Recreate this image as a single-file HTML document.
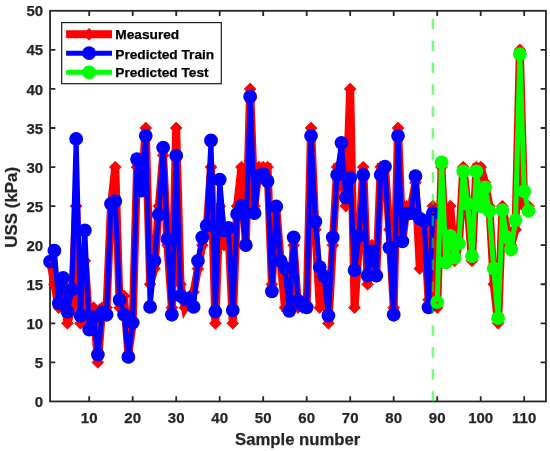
<!DOCTYPE html><html><head><meta charset="utf-8"><title>USS plot</title>
<style>html,body{margin:0;padding:0;background:#fff}svg{display:block}text{font-family:"Liberation Sans",sans-serif;font-weight:bold;fill:#262626;stroke:#262626;stroke-width:0.25px}</style></head><body>
<svg width="550" height="451" viewBox="0 0 550 451">
<rect x="0" y="0" width="550" height="451" fill="#fff"/>
<rect x="50.05" y="10.8" width="495.90000000000003" height="390.65" fill="none" stroke="#262626" stroke-width="1.8"/>
<path d="M50.05,362.38h5.3M545.95,362.38h-5.3M50.05,323.32h5.3M545.95,323.32h-5.3M50.05,284.25h5.3M545.95,284.25h-5.3M50.05,245.19h5.3M545.95,245.19h-5.3M50.05,206.12h5.3M545.95,206.12h-5.3M50.05,167.06h5.3M545.95,167.06h-5.3M50.05,128.00h5.3M545.95,128.00h-5.3M50.05,88.93h5.3M545.95,88.93h-5.3M50.05,49.87h5.3M545.95,49.87h-5.3M89.20,401.45v-5.3M89.20,10.8v5.3M132.70,401.45v-5.3M132.70,10.8v5.3M176.20,401.45v-5.3M176.20,10.8v5.3M219.70,401.45v-5.3M219.70,10.8v5.3M263.20,401.45v-5.3M263.20,10.8v5.3M306.70,401.45v-5.3M306.70,10.8v5.3M350.20,401.45v-5.3M350.20,10.8v5.3M393.70,401.45v-5.3M393.70,10.8v5.3M437.20,401.45v-5.3M437.20,10.8v5.3M480.70,401.45v-5.3M480.70,10.8v5.3M524.20,401.45v-5.3M524.20,10.8v5.3" stroke="#262626" stroke-width="1.8" fill="none"/>
<polyline points="50.05,260.82 54.40,284.25 58.75,307.69 63.10,284.25 67.45,323.32 71.80,307.69 76.15,206.12 80.50,323.32 84.85,260.82 89.20,323.32 93.55,307.69 97.90,362.38 102.25,307.69 106.60,307.69 110.95,206.12 115.30,167.06 119.65,307.69 124.00,295.97 128.35,354.57 132.70,323.32 137.05,167.06 141.40,188.94 145.75,128.00 150.10,284.25 154.45,268.63 158.80,206.12 163.15,155.34 167.50,245.19 171.85,307.69 176.20,128.00 180.55,284.25 184.90,307.69 189.25,299.88 193.60,292.07 197.95,268.63 202.30,245.19 206.65,229.56 211.00,167.06 215.35,323.32 219.70,206.12 224.05,245.19 228.40,229.56 232.75,323.32 237.10,206.12 241.45,167.06 245.80,245.19 250.15,88.93 254.50,206.12 258.85,167.06 263.20,167.06 267.55,167.06 271.90,284.25 276.25,206.12 280.60,260.82 284.95,307.69 289.30,307.69 293.65,245.19 298.00,307.69 302.35,307.69 306.70,307.69 311.05,128.00 315.40,229.56 319.75,307.69 324.10,284.25 328.45,323.32 332.80,245.19 337.15,167.06 341.50,167.06 345.85,206.12 350.20,88.93 354.55,307.69 358.90,245.19 363.25,167.06 367.60,284.25 371.95,245.19 376.30,276.44 380.65,167.06 385.00,167.06 389.35,229.56 393.70,307.69 398.05,128.00 402.40,241.28 406.75,206.12 411.10,206.12 415.45,182.69 419.80,268.63 424.15,221.75 428.50,299.88 432.85,206.12 437.20,307.69 441.55,167.06 445.90,260.82 450.25,206.12 454.60,260.82 458.95,245.19 463.30,167.06 467.65,206.12 472.00,260.82 476.35,167.06 480.70,167.06 485.05,182.69 489.40,206.12 493.75,284.25 498.10,323.32 502.45,206.12 506.80,229.56 511.15,245.19 515.50,229.56 519.85,49.87 524.20,206.12 528.55,206.12" fill="none" stroke="#f00" stroke-width="8" stroke-linejoin="miter" stroke-miterlimit="3"/>
<path d="M50.05,254.92L55.95,260.82L50.05,266.72L44.15,260.82ZM54.40,278.36L60.30,284.25L54.40,290.15L48.50,284.25ZM58.75,301.79L64.65,307.69L58.75,313.59L52.85,307.69ZM63.10,278.36L69.00,284.25L63.10,290.15L57.20,284.25ZM67.45,317.42L73.35,323.32L67.45,329.22L61.55,323.32ZM71.80,301.79L77.70,307.69L71.80,313.59L65.90,307.69ZM76.15,200.22L82.05,206.12L76.15,212.03L70.25,206.12ZM80.50,317.42L86.40,323.32L80.50,329.22L74.60,323.32ZM84.85,254.92L90.75,260.82L84.85,266.72L78.95,260.82ZM89.20,317.42L95.10,323.32L89.20,329.22L83.30,323.32ZM93.55,301.79L99.45,307.69L93.55,313.59L87.65,307.69ZM97.90,356.49L103.80,362.38L97.90,368.28L92.00,362.38ZM102.25,301.79L108.15,307.69L102.25,313.59L96.35,307.69ZM106.60,301.79L112.50,307.69L106.60,313.59L100.70,307.69ZM110.95,200.22L116.85,206.12L110.95,212.03L105.05,206.12ZM115.30,161.16L121.20,167.06L115.30,172.96L109.40,167.06ZM119.65,301.79L125.55,307.69L119.65,313.59L113.75,307.69ZM124.00,290.07L129.90,295.97L124.00,301.87L118.10,295.97ZM128.35,348.67L134.25,354.57L128.35,360.47L122.45,354.57ZM132.70,317.42L138.60,323.32L132.70,329.22L126.80,323.32ZM137.05,161.16L142.95,167.06L137.05,172.96L131.15,167.06ZM141.40,183.04L147.30,188.94L141.40,194.84L135.50,188.94ZM145.75,122.09L151.65,128.00L145.75,133.90L139.85,128.00ZM150.10,278.36L156.00,284.25L150.10,290.15L144.20,284.25ZM154.45,262.73L160.35,268.63L154.45,274.53L148.55,268.63ZM158.80,200.22L164.70,206.12L158.80,212.03L152.90,206.12ZM163.15,149.44L169.05,155.34L163.15,161.24L157.25,155.34ZM167.50,239.29L173.40,245.19L167.50,251.09L161.60,245.19ZM171.85,301.79L177.75,307.69L171.85,313.59L165.95,307.69ZM176.20,122.09L182.10,128.00L176.20,133.90L170.30,128.00ZM180.55,278.36L186.45,284.25L180.55,290.15L174.65,284.25ZM184.90,301.79L190.80,307.69L184.90,313.59L179.00,307.69ZM189.25,293.98L195.15,299.88L189.25,305.78L183.35,299.88ZM193.60,286.17L199.50,292.07L193.60,297.97L187.70,292.07ZM197.95,262.73L203.85,268.63L197.95,274.53L192.05,268.63ZM202.30,239.29L208.20,245.19L202.30,251.09L196.40,245.19ZM206.65,223.66L212.55,229.56L206.65,235.46L200.75,229.56ZM211.00,161.16L216.90,167.06L211.00,172.96L205.10,167.06ZM215.35,317.42L221.25,323.32L215.35,329.22L209.45,323.32ZM219.70,200.22L225.60,206.12L219.70,212.03L213.80,206.12ZM224.05,239.29L229.95,245.19L224.05,251.09L218.15,245.19ZM228.40,223.66L234.30,229.56L228.40,235.46L222.50,229.56ZM232.75,317.42L238.65,323.32L232.75,329.22L226.85,323.32ZM237.10,200.22L243.00,206.12L237.10,212.03L231.20,206.12ZM241.45,161.16L247.35,167.06L241.45,172.96L235.55,167.06ZM245.80,239.29L251.70,245.19L245.80,251.09L239.90,245.19ZM250.15,83.03L256.05,88.93L250.15,94.83L244.25,88.93ZM254.50,200.22L260.40,206.12L254.50,212.03L248.60,206.12ZM258.85,161.16L264.75,167.06L258.85,172.96L252.95,167.06ZM263.20,161.16L269.10,167.06L263.20,172.96L257.30,167.06ZM267.55,161.16L273.45,167.06L267.55,172.96L261.65,167.06ZM271.90,278.36L277.80,284.25L271.90,290.15L266.00,284.25ZM276.25,200.22L282.15,206.12L276.25,212.03L270.35,206.12ZM280.60,254.92L286.50,260.82L280.60,266.72L274.70,260.82ZM284.95,301.79L290.85,307.69L284.95,313.59L279.05,307.69ZM289.30,301.79L295.20,307.69L289.30,313.59L283.40,307.69ZM293.65,239.29L299.55,245.19L293.65,251.09L287.75,245.19ZM298.00,301.79L303.90,307.69L298.00,313.59L292.10,307.69ZM302.35,301.79L308.25,307.69L302.35,313.59L296.45,307.69ZM306.70,301.79L312.60,307.69L306.70,313.59L300.80,307.69ZM311.05,122.09L316.95,128.00L311.05,133.90L305.15,128.00ZM315.40,223.66L321.30,229.56L315.40,235.46L309.50,229.56ZM319.75,301.79L325.65,307.69L319.75,313.59L313.85,307.69ZM324.10,278.36L330.00,284.25L324.10,290.15L318.20,284.25ZM328.45,317.42L334.35,323.32L328.45,329.22L322.55,323.32ZM332.80,239.29L338.70,245.19L332.80,251.09L326.90,245.19ZM337.15,161.16L343.05,167.06L337.15,172.96L331.25,167.06ZM341.50,161.16L347.40,167.06L341.50,172.96L335.60,167.06ZM345.85,200.22L351.75,206.12L345.85,212.03L339.95,206.12ZM350.20,83.03L356.10,88.93L350.20,94.83L344.30,88.93ZM354.55,301.79L360.45,307.69L354.55,313.59L348.65,307.69ZM358.90,239.29L364.80,245.19L358.90,251.09L353.00,245.19ZM363.25,161.16L369.15,167.06L363.25,172.96L357.35,167.06ZM367.60,278.36L373.50,284.25L367.60,290.15L361.70,284.25ZM371.95,239.29L377.85,245.19L371.95,251.09L366.05,245.19ZM376.30,270.54L382.20,276.44L376.30,282.34L370.40,276.44ZM380.65,161.16L386.55,167.06L380.65,172.96L374.75,167.06ZM385.00,161.16L390.90,167.06L385.00,172.96L379.10,167.06ZM389.35,223.66L395.25,229.56L389.35,235.46L383.45,229.56ZM393.70,301.79L399.60,307.69L393.70,313.59L387.80,307.69ZM398.05,122.09L403.95,128.00L398.05,133.90L392.15,128.00ZM402.40,235.38L408.30,241.28L402.40,247.18L396.50,241.28ZM406.75,200.22L412.65,206.12L406.75,212.03L400.85,206.12ZM411.10,200.22L417.00,206.12L411.10,212.03L405.20,206.12ZM415.45,176.79L421.35,182.69L415.45,188.59L409.55,182.69ZM419.80,262.73L425.70,268.63L419.80,274.53L413.90,268.63ZM424.15,215.85L430.05,221.75L424.15,227.65L418.25,221.75ZM428.50,293.98L434.40,299.88L428.50,305.78L422.60,299.88ZM432.85,200.22L438.75,206.12L432.85,212.03L426.95,206.12ZM437.20,301.79L443.10,307.69L437.20,313.59L431.30,307.69ZM441.55,161.16L447.45,167.06L441.55,172.96L435.65,167.06ZM445.90,254.92L451.80,260.82L445.90,266.72L440.00,260.82ZM450.25,200.22L456.15,206.12L450.25,212.03L444.35,206.12ZM454.60,254.92L460.50,260.82L454.60,266.72L448.70,260.82ZM458.95,239.29L464.85,245.19L458.95,251.09L453.05,245.19ZM463.30,161.16L469.20,167.06L463.30,172.96L457.40,167.06ZM467.65,200.22L473.55,206.12L467.65,212.03L461.75,206.12ZM472.00,254.92L477.90,260.82L472.00,266.72L466.10,260.82ZM476.35,161.16L482.25,167.06L476.35,172.96L470.45,167.06ZM480.70,161.16L486.60,167.06L480.70,172.96L474.80,167.06ZM485.05,176.79L490.95,182.69L485.05,188.59L479.15,182.69ZM489.40,200.22L495.30,206.12L489.40,212.03L483.50,206.12ZM493.75,278.36L499.65,284.25L493.75,290.15L487.85,284.25ZM498.10,317.42L504.00,323.32L498.10,329.22L492.20,323.32ZM502.45,200.22L508.35,206.12L502.45,212.03L496.55,206.12ZM506.80,223.66L512.70,229.56L506.80,235.46L500.90,229.56ZM511.15,239.29L517.05,245.19L511.15,251.09L505.25,245.19ZM515.50,223.66L521.40,229.56L515.50,235.46L509.60,229.56ZM519.85,43.97L525.75,49.87L519.85,55.77L513.95,49.87ZM524.20,200.22L530.10,206.12L524.20,212.03L518.30,206.12ZM528.55,200.22L534.45,206.12L528.55,212.03L522.65,206.12Z" fill="#f00" stroke="#f00" stroke-width="0.8" stroke-linejoin="round"/>
<polyline points="50.05,261.60 54.40,250.66 58.75,303.01 63.10,278.00 67.45,311.60 71.80,289.72 76.15,138.93 80.50,315.51 84.85,230.35 89.20,329.57 93.55,317.07 97.90,354.57 102.25,312.38 106.60,314.73 110.95,203.78 115.30,201.05 119.65,299.88 124.00,314.73 128.35,356.92 132.70,322.54 137.05,159.25 141.40,190.50 145.75,135.81 150.10,306.91 154.45,260.82 158.80,214.72 163.15,147.53 167.50,238.94 171.85,314.73 176.20,155.73 180.55,295.97 184.90,299.10 189.25,298.32 193.60,306.91 197.95,260.82 202.30,237.38 206.65,225.66 211.00,140.50 215.35,311.60 219.70,179.56 224.05,230.35 228.40,228.00 232.75,310.04 237.10,213.94 241.45,206.12 245.80,245.19 250.15,96.74 254.50,213.16 258.85,175.65 263.20,174.09 267.55,181.12 271.90,291.29 276.25,206.52 280.60,260.82 284.95,267.85 289.30,310.82 293.65,237.38 298.00,300.66 302.35,305.35 306.70,307.30 311.05,135.81 315.40,221.75 319.75,267.07 324.10,276.44 328.45,315.51 332.80,237.38 337.15,174.87 341.50,142.84 345.85,197.53 350.20,178.00 354.55,270.19 358.90,235.81 363.25,174.87 367.60,275.66 371.95,251.44 376.30,275.66 380.65,174.87 385.00,166.67 389.35,247.53 393.70,314.73 398.05,135.81 402.40,241.28 406.75,213.94 411.10,213.16 415.45,176.04 419.80,218.63 424.15,220.97 428.50,307.30 432.85,213.16" fill="none" stroke="#00f" stroke-width="5" stroke-linejoin="miter" stroke-miterlimit="3"/>
<g fill="#00f"><circle cx="54.40" cy="250.66" r="6.9"/><circle cx="58.75" cy="303.01" r="6.9"/><circle cx="63.10" cy="278.00" r="6.9"/><circle cx="67.45" cy="311.60" r="6.9"/><circle cx="71.80" cy="289.72" r="6.9"/><circle cx="76.15" cy="138.93" r="6.9"/><circle cx="80.50" cy="315.51" r="6.9"/><circle cx="84.85" cy="230.35" r="6.9"/><circle cx="89.20" cy="329.57" r="6.9"/><circle cx="93.55" cy="317.07" r="6.9"/><circle cx="97.90" cy="354.57" r="6.9"/><circle cx="102.25" cy="312.38" r="6.9"/><circle cx="106.60" cy="314.73" r="6.9"/><circle cx="110.95" cy="203.78" r="6.9"/><circle cx="115.30" cy="201.05" r="6.9"/><circle cx="119.65" cy="299.88" r="6.9"/><circle cx="124.00" cy="314.73" r="6.9"/><circle cx="128.35" cy="356.92" r="6.9"/><circle cx="132.70" cy="322.54" r="6.9"/><circle cx="137.05" cy="159.25" r="6.9"/><circle cx="141.40" cy="190.50" r="6.9"/><circle cx="145.75" cy="135.81" r="6.9"/><circle cx="150.10" cy="306.91" r="6.9"/><circle cx="154.45" cy="260.82" r="6.9"/><circle cx="158.80" cy="214.72" r="6.9"/><circle cx="163.15" cy="147.53" r="6.9"/><circle cx="167.50" cy="238.94" r="6.9"/><circle cx="171.85" cy="314.73" r="6.9"/><circle cx="176.20" cy="155.73" r="6.9"/><circle cx="180.55" cy="295.97" r="6.9"/><circle cx="184.90" cy="299.10" r="6.9"/><circle cx="189.25" cy="298.32" r="6.9"/><circle cx="193.60" cy="306.91" r="6.9"/><circle cx="197.95" cy="260.82" r="6.9"/><circle cx="202.30" cy="237.38" r="6.9"/><circle cx="206.65" cy="225.66" r="6.9"/><circle cx="211.00" cy="140.50" r="6.9"/><circle cx="215.35" cy="311.60" r="6.9"/><circle cx="219.70" cy="179.56" r="6.9"/><circle cx="224.05" cy="230.35" r="6.9"/><circle cx="228.40" cy="228.00" r="6.9"/><circle cx="232.75" cy="310.04" r="6.9"/><circle cx="237.10" cy="213.94" r="6.9"/><circle cx="241.45" cy="206.12" r="6.9"/><circle cx="245.80" cy="245.19" r="6.9"/><circle cx="250.15" cy="96.74" r="6.9"/><circle cx="254.50" cy="213.16" r="6.9"/><circle cx="258.85" cy="175.65" r="6.9"/><circle cx="263.20" cy="174.09" r="6.9"/><circle cx="267.55" cy="181.12" r="6.9"/><circle cx="271.90" cy="291.29" r="6.9"/><circle cx="276.25" cy="206.52" r="6.9"/><circle cx="280.60" cy="260.82" r="6.9"/><circle cx="284.95" cy="267.85" r="6.9"/><circle cx="289.30" cy="310.82" r="6.9"/><circle cx="293.65" cy="237.38" r="6.9"/><circle cx="298.00" cy="300.66" r="6.9"/><circle cx="302.35" cy="305.35" r="6.9"/><circle cx="306.70" cy="307.30" r="6.9"/><circle cx="311.05" cy="135.81" r="6.9"/><circle cx="315.40" cy="221.75" r="6.9"/><circle cx="319.75" cy="267.07" r="6.9"/><circle cx="324.10" cy="276.44" r="6.9"/><circle cx="328.45" cy="315.51" r="6.9"/><circle cx="332.80" cy="237.38" r="6.9"/><circle cx="337.15" cy="174.87" r="6.9"/><circle cx="341.50" cy="142.84" r="6.9"/><circle cx="345.85" cy="197.53" r="6.9"/><circle cx="350.20" cy="178.00" r="6.9"/><circle cx="354.55" cy="270.19" r="6.9"/><circle cx="358.90" cy="235.81" r="6.9"/><circle cx="363.25" cy="174.87" r="6.9"/><circle cx="367.60" cy="275.66" r="6.9"/><circle cx="371.95" cy="251.44" r="6.9"/><circle cx="376.30" cy="275.66" r="6.9"/><circle cx="380.65" cy="174.87" r="6.9"/><circle cx="385.00" cy="166.67" r="6.9"/><circle cx="389.35" cy="247.53" r="6.9"/><circle cx="393.70" cy="314.73" r="6.9"/><circle cx="398.05" cy="135.81" r="6.9"/><circle cx="402.40" cy="241.28" r="6.9"/><circle cx="406.75" cy="213.94" r="6.9"/><circle cx="411.10" cy="213.16" r="6.9"/><circle cx="415.45" cy="176.04" r="6.9"/><circle cx="419.80" cy="218.63" r="6.9"/><circle cx="424.15" cy="220.97" r="6.9"/><circle cx="428.50" cy="307.30" r="6.9"/></g><g fill="none" stroke="#00f" stroke-width="5.6"><circle cx="50.05" cy="261.60" r="4.1"/><circle cx="432.85" cy="213.16" r="4.1"/></g>
<polyline points="437.20,302.22 441.55,162.37 445.90,262.38 450.25,235.81 454.60,257.69 458.95,243.63 463.30,171.36 467.65,203.78 472.00,256.13 476.35,171.36 480.70,206.12 485.05,187.37 489.40,211.20 493.75,268.63 498.10,318.16 502.45,210.03 506.80,237.38 511.15,249.49 515.50,220.19 519.85,54.16 524.20,191.28 528.55,210.81" fill="none" stroke="#0f0" stroke-width="5" stroke-linejoin="miter" stroke-miterlimit="3"/>
<g fill="#0f0"><circle cx="441.55" cy="162.37" r="6.9"/><circle cx="445.90" cy="262.38" r="6.9"/><circle cx="450.25" cy="235.81" r="6.9"/><circle cx="454.60" cy="257.69" r="6.9"/><circle cx="458.95" cy="243.63" r="6.9"/><circle cx="463.30" cy="171.36" r="6.9"/><circle cx="467.65" cy="203.78" r="6.9"/><circle cx="472.00" cy="256.13" r="6.9"/><circle cx="476.35" cy="171.36" r="6.9"/><circle cx="480.70" cy="206.12" r="6.9"/><circle cx="485.05" cy="187.37" r="6.9"/><circle cx="489.40" cy="211.20" r="6.9"/><circle cx="493.75" cy="268.63" r="6.9"/><circle cx="498.10" cy="318.16" r="6.9"/><circle cx="502.45" cy="210.03" r="6.9"/><circle cx="506.80" cy="237.38" r="6.9"/><circle cx="511.15" cy="249.49" r="6.9"/><circle cx="515.50" cy="220.19" r="6.9"/><circle cx="519.85" cy="54.16" r="6.9"/><circle cx="524.20" cy="191.28" r="6.9"/></g><g fill="none" stroke="#0f0" stroke-width="5.6"><circle cx="437.20" cy="302.22" r="4.1"/><circle cx="528.55" cy="210.81" r="4.1"/></g>
<line x1="432.85" y1="401.45" x2="432.85" y2="10.8" stroke="#00ff00" stroke-opacity="0.55" stroke-width="2.4" stroke-dasharray="10.5,11.4"/>
<text x="43.1" y="407.05" font-size="15" text-anchor="end">0</text>
<text x="43.1" y="367.99" font-size="15" text-anchor="end">5</text>
<text x="43.1" y="328.92" font-size="15" text-anchor="end">10</text>
<text x="43.1" y="289.86" font-size="15" text-anchor="end">15</text>
<text x="43.1" y="250.79" font-size="15" text-anchor="end">20</text>
<text x="43.1" y="211.72" font-size="15" text-anchor="end">25</text>
<text x="43.1" y="172.66" font-size="15" text-anchor="end">30</text>
<text x="43.1" y="133.59" font-size="15" text-anchor="end">35</text>
<text x="43.1" y="94.53" font-size="15" text-anchor="end">40</text>
<text x="43.1" y="55.47" font-size="15" text-anchor="end">45</text>
<text x="43.1" y="16.40" font-size="15" text-anchor="end">50</text>
<text x="89.20" y="423" font-size="15" text-anchor="middle">10</text>
<text x="132.70" y="423" font-size="15" text-anchor="middle">20</text>
<text x="176.20" y="423" font-size="15" text-anchor="middle">30</text>
<text x="219.70" y="423" font-size="15" text-anchor="middle">40</text>
<text x="263.20" y="423" font-size="15" text-anchor="middle">50</text>
<text x="306.70" y="423" font-size="15" text-anchor="middle">60</text>
<text x="350.20" y="423" font-size="15" text-anchor="middle">70</text>
<text x="393.70" y="423" font-size="15" text-anchor="middle">80</text>
<text x="437.20" y="423" font-size="15" text-anchor="middle">90</text>
<text x="480.70" y="423" font-size="15" text-anchor="middle">100</text>
<text x="524.20" y="423" font-size="15" text-anchor="middle">110</text>
<text x="297.7" y="445.3" font-size="16.7" text-anchor="middle">Sample number</text>
<text transform="translate(17.3,207.3) rotate(-90)" font-size="16.9" text-anchor="middle">USS (kPa)</text>
<rect x="61.7" y="22.6" width="159.6" height="61.1" fill="#fff" stroke="#1a1a1a" stroke-width="1.2"/>
<line x1="66.1" y1="34.3" x2="112" y2="34.3" stroke="#f00" stroke-width="8"/>
<path d="M89.1,28.4l5.9,5.9l-5.9,5.9l-5.9,-5.9Z" fill="#f00" stroke="#f00" stroke-width="0.8" stroke-linejoin="round"/>
<line x1="66.1" y1="53.2" x2="112" y2="53.2" stroke="#00f" stroke-width="5"/>
<circle cx="89.1" cy="53.2" r="6.9" fill="#00f"/>
<line x1="66.1" y1="72.3" x2="112" y2="72.3" stroke="#0f0" stroke-width="5"/>
<circle cx="89.1" cy="72.3" r="6.9" fill="#0f0"/>
<text x="115.3" y="39.4" font-size="13.7" style="fill:#000;stroke:#000">Measured</text>
<text x="115.3" y="58.6" font-size="13.7" style="fill:#000;stroke:#000">Predicted Train</text>
<text x="115.3" y="77.4" font-size="13.7" style="fill:#000;stroke:#000">Predicted Test</text>
</svg></body></html>
